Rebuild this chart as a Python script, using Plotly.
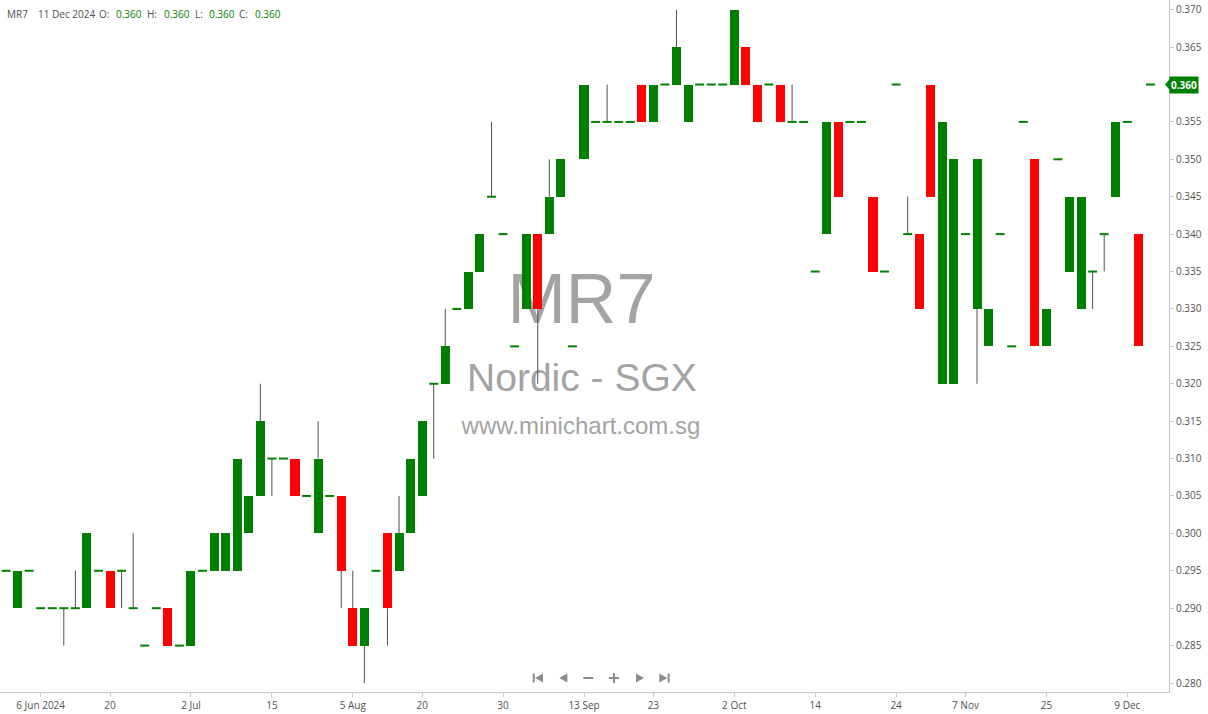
import plotly.graph_objects as go

# ---------------- data ----------------
symbol = "MR7"
market = "Nordic - SGX"
site = "www.minichart.com.sg"
last_date = "11 Dec 2024"

open_ = [0.295, 0.290, 0.295, 0.290, 0.290, 0.290, 0.290, 0.290, 0.295, 0.295,
         0.295, 0.290, 0.285, 0.290, 0.290, 0.285, 0.285, 0.295, 0.295, 0.295,
         0.295, 0.300, 0.305, 0.310, 0.310, 0.310, 0.305, 0.300, 0.305, 0.305,
         0.290, 0.285, 0.295, 0.300, 0.295, 0.300, 0.305, 0.320, 0.320, 0.330,
         0.330, 0.335, 0.345, 0.340, 0.325, 0.330, 0.340, 0.340, 0.345, 0.325,
         0.350, 0.355, 0.355, 0.355, 0.355, 0.360, 0.355, 0.360, 0.360, 0.355,
         0.360, 0.360, 0.360, 0.360, 0.365, 0.360, 0.360, 0.360, 0.355, 0.355,
         0.335, 0.340, 0.355, 0.355, 0.355, 0.345, 0.335, 0.360, 0.340, 0.340,
         0.360, 0.320, 0.320, 0.340, 0.330, 0.325, 0.340, 0.325, 0.355, 0.350,
         0.325, 0.350, 0.335, 0.330, 0.335, 0.340, 0.345, 0.355, 0.340, 0.360]
high = [0.295, 0.295, 0.295, 0.290, 0.290, 0.290, 0.295, 0.300, 0.295, 0.295,
        0.295, 0.300, 0.285, 0.290, 0.290, 0.285, 0.295, 0.295, 0.300, 0.300,
        0.310, 0.305, 0.320, 0.310, 0.310, 0.310, 0.305, 0.315, 0.305, 0.305,
        0.295, 0.290, 0.295, 0.300, 0.305, 0.310, 0.315, 0.320, 0.330, 0.330,
        0.335, 0.340, 0.355, 0.340, 0.325, 0.340, 0.340, 0.350, 0.350, 0.325,
        0.360, 0.355, 0.360, 0.355, 0.355, 0.360, 0.360, 0.360, 0.370, 0.360,
        0.360, 0.360, 0.360, 0.370, 0.365, 0.360, 0.360, 0.360, 0.360, 0.355,
        0.335, 0.355, 0.355, 0.355, 0.355, 0.345, 0.335, 0.360, 0.345, 0.340,
        0.360, 0.355, 0.350, 0.340, 0.350, 0.330, 0.340, 0.325, 0.355, 0.350,
        0.330, 0.350, 0.345, 0.345, 0.335, 0.340, 0.355, 0.355, 0.340, 0.360]
low = [0.295, 0.290, 0.295, 0.290, 0.290, 0.285, 0.290, 0.290, 0.295, 0.290,
       0.290, 0.290, 0.285, 0.290, 0.285, 0.285, 0.285, 0.295, 0.295, 0.295,
       0.295, 0.300, 0.305, 0.305, 0.310, 0.305, 0.305, 0.300, 0.305, 0.290,
       0.285, 0.280, 0.295, 0.285, 0.295, 0.300, 0.305, 0.310, 0.320, 0.330,
       0.330, 0.335, 0.345, 0.340, 0.325, 0.330, 0.320, 0.340, 0.345, 0.325,
       0.350, 0.355, 0.355, 0.355, 0.355, 0.355, 0.355, 0.360, 0.360, 0.355,
       0.360, 0.360, 0.360, 0.360, 0.360, 0.355, 0.360, 0.355, 0.355, 0.355,
       0.335, 0.340, 0.345, 0.355, 0.355, 0.335, 0.335, 0.360, 0.340, 0.330,
       0.345, 0.320, 0.320, 0.340, 0.320, 0.325, 0.340, 0.325, 0.355, 0.325,
       0.325, 0.350, 0.335, 0.330, 0.330, 0.335, 0.345, 0.355, 0.325, 0.360]
close = [0.295, 0.295, 0.295, 0.290, 0.290, 0.290, 0.290, 0.300, 0.295, 0.290,
         0.295, 0.290, 0.285, 0.290, 0.285, 0.285, 0.295, 0.295, 0.300, 0.300,
         0.310, 0.305, 0.315, 0.310, 0.310, 0.305, 0.305, 0.310, 0.305, 0.295,
         0.285, 0.290, 0.295, 0.290, 0.300, 0.310, 0.315, 0.320, 0.325, 0.330,
         0.335, 0.340, 0.345, 0.340, 0.325, 0.340, 0.330, 0.345, 0.350, 0.325,
         0.360, 0.355, 0.355, 0.355, 0.355, 0.355, 0.360, 0.360, 0.365, 0.360,
         0.360, 0.360, 0.360, 0.370, 0.360, 0.355, 0.360, 0.355, 0.355, 0.355,
         0.335, 0.355, 0.345, 0.355, 0.355, 0.335, 0.335, 0.360, 0.340, 0.330,
         0.345, 0.355, 0.350, 0.340, 0.350, 0.330, 0.340, 0.325, 0.355, 0.325,
         0.330, 0.350, 0.345, 0.345, 0.335, 0.340, 0.355, 0.355, 0.325, 0.360]

tick_index = [3, 9, 16, 23, 30, 36, 43, 50, 56, 63, 70, 77, 83, 90, 97]
tick_labels = ["6 Jun 2024", "20", "2 Jul", "15", "5 Aug", "20", "30",
               "13 Sep", "23", "2 Oct", "14", "24", "7 Nov", "25", "9 Dec"]
# price ticks shown on the right axis (0.360 is covered by the last-price label)
price_ticks = [0.280, 0.285, 0.290, 0.295, 0.300, 0.305, 0.310, 0.315, 0.320,
               0.325, 0.330, 0.335, 0.340, 0.345, 0.350, 0.355, 0.365, 0.370]

# ---------------- styling ----------------
GREEN = "#008000"
RED = "#ff0000"
WICK = "#505050"
AXIS = "#c8c8c8"
TXT = "#505050"
WM = "#a3a3a3"
FONT = "Open Sans, Segoe UI, sans-serif"
W, H = 1208, 714
ML, MR, MT, MB = 0, 39, 0, 22
PW, PH = W - ML - MR, H - MT - MB

n = len(open_)
xs = list(range(n))

# bodies / wicks split from the OHLC arrays
up_x, up_b, up_h, dn_x, dn_b, dn_h, flat_x, flat_y = [], [], [], [], [], [], [], []
wx, wy = [], []
for i in xs:
    o, h, l, c = open_[i], high[i], low[i], close[i]
    top, bot = max(o, c), min(o, c)
    if c > o:
        up_x.append(i); up_b.append(bot); up_h.append(top - bot)
    elif c < o:
        dn_x.append(i); dn_b.append(bot); dn_h.append(top - bot)
    else:
        flat_x.append(i); flat_y.append(c)
    if h > top:
        wx += [i, i, None]; wy += [top, h, None]
    if l < bot:
        wx += [i, i, None]; wy += [bot, l, None]

fig = go.Figure()

# watermark on base subplot (drawn underneath the candles)
fig.add_trace(go.Scatter(x=[0.4974], y=[0.559], mode="text", text=[symbol],
                         textfont=dict(family="Liberation Sans, Arial", size=70, color=WM),
                         xaxis="x", yaxis="y", hoverinfo="skip", showlegend=False))
fig.add_trace(go.Scatter(x=[0.4978], y=[0.449], mode="text", text=[market],
                         textfont=dict(family="Liberation Sans, Arial", size=39, color=WM),
                         xaxis="x", yaxis="y", hoverinfo="skip", showlegend=False))
fig.add_trace(go.Scatter(x=[0.497], y=[0.382], mode="text", text=[site],
                         textfont=dict(family="Liberation Sans, Arial", size=24, color=WM),
                         xaxis="x", yaxis="y", hoverinfo="skip", showlegend=False))

BW = 0.78
fig.add_trace(go.Bar(x=up_x, y=up_h, base=up_b, width=BW, marker=dict(color=GREEN, line=dict(width=0)),
                     xaxis="x2", yaxis="y2", showlegend=False))
fig.add_trace(go.Bar(x=dn_x, y=dn_h, base=dn_b, width=BW, marker=dict(color=RED, line=dict(width=0)),
                     xaxis="x2", yaxis="y2", showlegend=False))
fig.add_trace(go.Scatter(x=wx, y=wy, mode="lines", line=dict(color=WICK, width=1),
                         xaxis="x2", yaxis="y2", showlegend=False, hoverinfo="skip"))
fig.add_trace(go.Scatter(x=flat_x, y=flat_y, mode="markers",
                         marker=dict(symbol="line-ew", size=6.4, line=dict(color=GREEN, width=2)),
                         xaxis="x2", yaxis="y2", showlegend=False))

# axis ranges from pixel calibration of the reference
x_step = 11.56
x0 = -6 / x_step
x1 = (PW - 6) / x_step
ppu = 37.41 / 0.005
y_top = 0.370 + 9.7 / ppu
y_bot = 0.280 - 9.0 / ppu

fig.update_layout(
    width=W, height=H, template="none",
    margin=dict(l=ML, r=MR, t=MT, b=MB, pad=0),
    paper_bgcolor="white", plot_bgcolor="white",
    barmode="overlay", bargap=0, showlegend=False, hovermode=False,
    font=dict(family=FONT, size=10, color=TXT),
    xaxis=dict(range=[0, 1], visible=False, fixedrange=True, domain=[0, 1]),
    yaxis=dict(range=[0, 1], visible=False, fixedrange=True, domain=[0, 1]),
    xaxis2=dict(overlaying="x", anchor="y2", side="bottom", range=[x0, x1],
                tickmode="array", tickvals=tick_index, ticktext=tick_labels,
                showgrid=False, zeroline=False, showline=True, linecolor=AXIS, linewidth=1,
                ticks="outside", ticklen=4, tickcolor=AXIS, tickwidth=1,
                tickfont=dict(family=FONT, size=10, color=TXT), automargin=False),
    yaxis2=dict(overlaying="y", anchor="x2", side="right", range=[y_bot, y_top],
                tickmode="array", tickvals=price_ticks, tickformat=".3f",
                showgrid=False, zeroline=False, showline=True, linecolor=AXIS, linewidth=1,
                ticks="outside", ticklen=4, tickcolor=AXIS, tickwidth=1,
                tickfont=dict(family=FONT, size=10, color=TXT), automargin=False),
)

ann = []
def px(x):
    return (x - ML) / PW
def py(y):
    return 1 - (y - MT) / PH

# header
hdr_font = dict(family=FONT, size=10, color=TXT)
val_font = dict(family=FONT, size=10, color=GREEN)
header = [(5, symbol, hdr_font), (36, last_date, hdr_font),
          (97, "O:", hdr_font), (114, f"{open_[-1]:.3f}", val_font),
          (145, "H:", hdr_font), (162, f"{high[-1]:.3f}", val_font),
          (193, "L:", hdr_font), (207, f"{low[-1]:.3f}", val_font),
          (237, "C:", hdr_font), (253, f"{close[-1]:.3f}", val_font)]
for hx, t, f in header:
    ann.append(dict(xref="paper", yref="paper", x=px(hx), y=py(14), text=t, showarrow=False,
                    xanchor="left", yanchor="middle", font=f))

# last price label
ann.append(dict(xref="paper", yref="y2", x=1, y=close[-1], text=f"<b>{close[-1]:.3f}</b>",
                showarrow=False, xanchor="left", yanchor="middle", xshift=0,
                bgcolor=GREEN, font=dict(family=FONT, size=10, color="white"),
                borderpad=1))

fig.update_layout(annotations=ann)

shapes = []
# arrow for last price label
shapes.append(dict(type="path", xref="paper", yref="y2", xsizemode="pixel", ysizemode="pixel",
                   xanchor=1, yanchor=close[-1], path="M 2,7 L -4,0 L 2,-7 Z",
                   fillcolor=GREEN, line=dict(width=0)))

# navigation icons
NAV = "#8c8c8c"
cy = py(678)
def tri(cx, direction):
    if direction < 0:
        p = "M 4,-4.5 L -4,0 L 4,4.5 Z"
    else:
        p = "M -4,-4.5 L 4,0 L -4,4.5 Z"
    return dict(type="path", xref="paper", yref="paper", xsizemode="pixel", ysizemode="pixel",
                xanchor=px(cx), yanchor=cy, path=p, fillcolor=NAV, line=dict(width=0))
def rect(cx, w, h):
    return dict(type="path", xref="paper", yref="paper", xsizemode="pixel", ysizemode="pixel",
                xanchor=px(cx), yanchor=cy,
                path=f"M {-w/2},{-h/2} L {w/2},{-h/2} L {w/2},{h/2} L {-w/2},{h/2} Z",
                fillcolor=NAV, line=dict(width=0))
shapes += [rect(533.7, 2, 9), tri(539, -1),
           tri(563.3, -1),
           rect(588.3, 10, 2),
           rect(614, 10, 2), rect(614, 2, 10),
           tri(640, 1),
           tri(663.3, 1), rect(668.7, 2, 9)]
fig.update_layout(shapes=shapes)

fig.write_html("out.html", config={"displayModeBar": False, "staticPlot": True},
               post_script="document.body.style.margin='0';document.body.style.padding='0';")
